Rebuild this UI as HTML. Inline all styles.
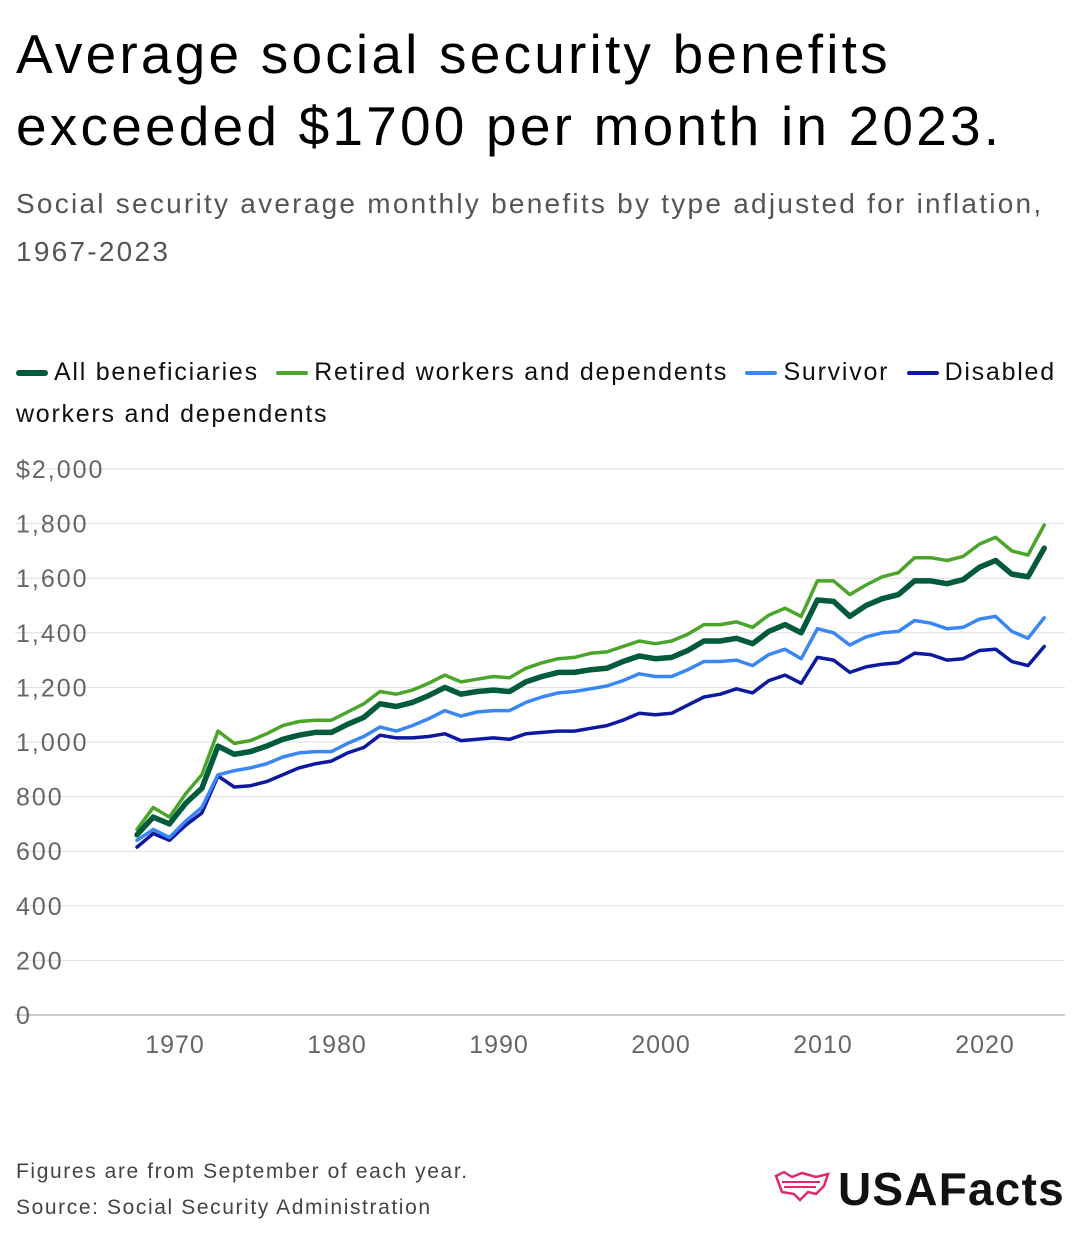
<!DOCTYPE html>
<html><head><meta charset="utf-8">
<style>
body{margin:0;background:#fff;font-family:"Liberation Sans",sans-serif;}
#wrap{position:relative;width:1080px;height:1244px;overflow:hidden;}
h1{position:absolute;left:16px;top:18px;margin:0;font-size:55px;font-weight:500;line-height:72px;color:#000;letter-spacing:3.2px;white-space:nowrap;}
.sub{position:absolute;left:16px;top:180px;font-size:28px;line-height:48px;color:#555;width:1062px;letter-spacing:2.25px;}
.legend{position:absolute;left:16px;top:351px;font-size:25px;line-height:42px;color:#111;width:1064px;letter-spacing:1.75px;}
.sw{display:inline-block;width:32px;height:6px;border-radius:3px;vertical-align:middle;margin-right:6px;}
.foot{position:absolute;left:16px;font-size:21px;color:#444;letter-spacing:1.6px;}
.logo{position:absolute;left:838px;top:1162px;font-size:46px;font-weight:700;letter-spacing:1.2px;color:#111;}
</style></head><body>
<div id="wrap">
<h1>Average social security benefits<br>exceeded $1700 per month in 2023.</h1>
<div class="sub">Social security average monthly benefits by type adjusted for inflation, 1967-2023</div>
<div class="legend">
<span><span class="sw" style="background:#005a3c"></span>All beneficiaries</span>&nbsp;
<span><span class="sw" style="background:#4aa52a;height:4px"></span>Retired workers and dependents</span>&nbsp;
<span><span class="sw" style="background:#3a86f5;height:4px"></span>Survivor</span>&nbsp;
<span><span class="sw" style="background:#0d1aa0;height:4px"></span>Disabled workers and dependents</span>
</div>
<svg id="chart" width="1080" height="1244" style="position:absolute;left:0;top:0"></svg>
<div class="foot" style="top:1160px">Figures are from September of each year.</div>
<div class="foot" style="top:1196px">Source: Social Security Administration</div>
<svg style="position:absolute;left:772px;top:1168px" width="60" height="40">
<path d="M4 8 L12 4 L20 9 L30 5 L44 9 L56 6 L52 18 L44 26 L36 24 L28 32 L22 26 L10 24 Z" fill="none" stroke="#e0286e" stroke-width="2.5"/>
<path d="M10 14 L48 14 M12 19 L44 19" stroke="#e0286e" stroke-width="2"/>
</svg>
<div class="logo">USAFacts</div>
</div>
<script>
const years=[];for(let y=1967;y<=2023;y++)years.push(y);
const allBen=[660,725,700,775,830,985,955,965,985,1010,1025,1035,1035,1065,1090,1140,1130,1145,1170,1200,1175,1185,1190,1185,1220,1240,1255,1255,1265,1270,1295,1315,1305,1310,1335,1370,1370,1380,1360,1405,1430,1400,1520,1515,1460,1500,1525,1540,1590,1590,1580,1595,1640,1665,1615,1605,1710];
const retired=[680,760,725,810,880,1040,995,1005,1030,1060,1075,1080,1080,1110,1140,1185,1175,1190,1215,1245,1220,1230,1240,1235,1270,1290,1305,1310,1325,1330,1350,1370,1360,1370,1395,1430,1430,1440,1420,1465,1490,1460,1590,1590,1540,1575,1605,1620,1675,1675,1665,1680,1725,1750,1700,1685,1795];
const survivor=[640,680,650,710,760,880,895,905,920,945,960,965,965,995,1020,1055,1040,1060,1085,1115,1095,1110,1115,1115,1145,1165,1180,1185,1195,1205,1225,1250,1240,1240,1265,1295,1295,1300,1280,1320,1340,1305,1415,1400,1355,1385,1400,1405,1445,1435,1415,1420,1450,1460,1405,1380,1455];
const disabled=[615,665,640,695,740,875,835,840,855,880,905,920,930,960,980,1025,1015,1015,1020,1030,1005,1010,1015,1010,1030,1035,1040,1040,1050,1060,1080,1105,1100,1105,1135,1165,1175,1195,1180,1225,1245,1215,1310,1300,1255,1275,1285,1290,1325,1320,1300,1305,1335,1340,1295,1280,1350];
const yTicks=[0,200,400,600,800,1000,1200,1400,1600,1800,2000];
const yTickLabels=["0","200","400","600","800","1,000","1,200","1,400","1,600","1,800","$2,000"];
const xTicks=[1970,1980,1990,2000,2010,2020];
const NS="http://www.w3.org/2000/svg";
const svg=document.getElementById('chart');
const Y=v=>1015-v*0.273;
function mk(t,a){const e=document.createElementNS(NS,t);for(const k in a)e.setAttribute(k,a[k]);svg.appendChild(e);return e;}
yTicks.forEach((v,i)=>{
 const l=mk('line',{x1:15,x2:1065,y1:Y(v),y2:Y(v),stroke:i==0?'#ccc':'#ddd','stroke-width':i==0?2:1});
 
 
 const t=mk('text',{x:16,y:Y(v)+9,'font-size':25,fill:'#666','letter-spacing':2,'font-family':'Liberation Sans, sans-serif'});
 t.textContent=yTickLabels[i];
 
 
});
xTicks.forEach(v=>{
 const t=mk('text',{x:175+(v-1970)*16.2,y:1053,'font-size':25,fill:'#666','text-anchor':'middle','letter-spacing':1,'font-family':'Liberation Sans, sans-serif'});
 t.textContent=v;
 
 
});
function line(data,color,w,name){
 const d=data.map((v,i)=>(i?'L':'M')+(137+(years[i]-1967)*16.2).toFixed(1)+' '+Y(v).toFixed(1)).join(' ');
 const p=mk('path',{d:d,fill:'none',stroke:color,'stroke-width':w,'stroke-linejoin':'round','stroke-linecap':'round'});
 
 
}
line(disabled,'#0d1aa0',3.5,'line-disabled');
line(survivor,'#3a86f5',3.5,'line-survivor');
line(retired,'#4aa52a',3.5,'line-retired');
line(allBen,'#005a3c',5.5,'line-all-beneficiaries');
</script>
</body></html>
